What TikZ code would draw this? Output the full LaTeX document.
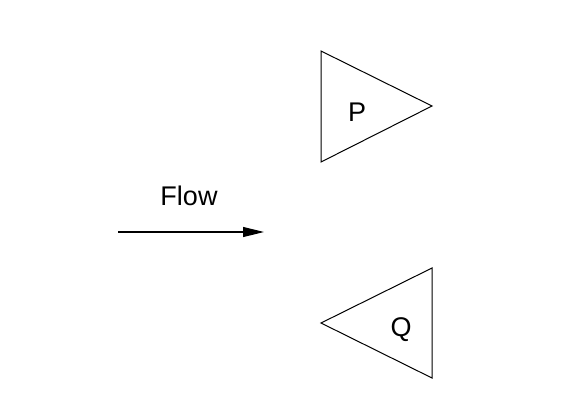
\documentclass[tikz,border=0pt]{standalone}
\usepackage{fontspec}
\setmainfont{Liberation Sans}
\usetikzlibrary{arrows.meta}
\begin{document}
\begin{tikzpicture}[x=1pt,y=-1pt,
  tri/.style={draw=black,line width=1pt,line join=miter},
  lbl/.style={font=\fontsize{27}{31}\selectfont,inner sep=0pt},
  flowarrow/.style={draw=black,line width=1.1pt,-{Triangle[length=21pt,width=10pt]}}]
\useasboundingbox (0,0) rectangle (580,402);
% triangle P
\coordinate (p1) at (321,51);
\coordinate (p2) at (321,162);
\coordinate (p3) at (432,106);
\draw[tri] (p1) -- (p3) -- (p2) -- cycle;
\node[lbl] (P) at (357,112) {P};
% triangle Q
\coordinate (q1) at (432,268);
\coordinate (q2) at (432,378);
\coordinate (q3) at (321,323);
\draw[tri] (q1) -- (q3) -- (q2) -- cycle;
\node[lbl] (Q) at (401,330) {Q};
% flow arrow
\coordinate (a0) at (118,232);
\coordinate (a1) at (264,232);
\draw[flowarrow] (a0) -- (a1);
\node[lbl] (flow) at (189,196) {Flow};
\end{tikzpicture}
\end{document}
